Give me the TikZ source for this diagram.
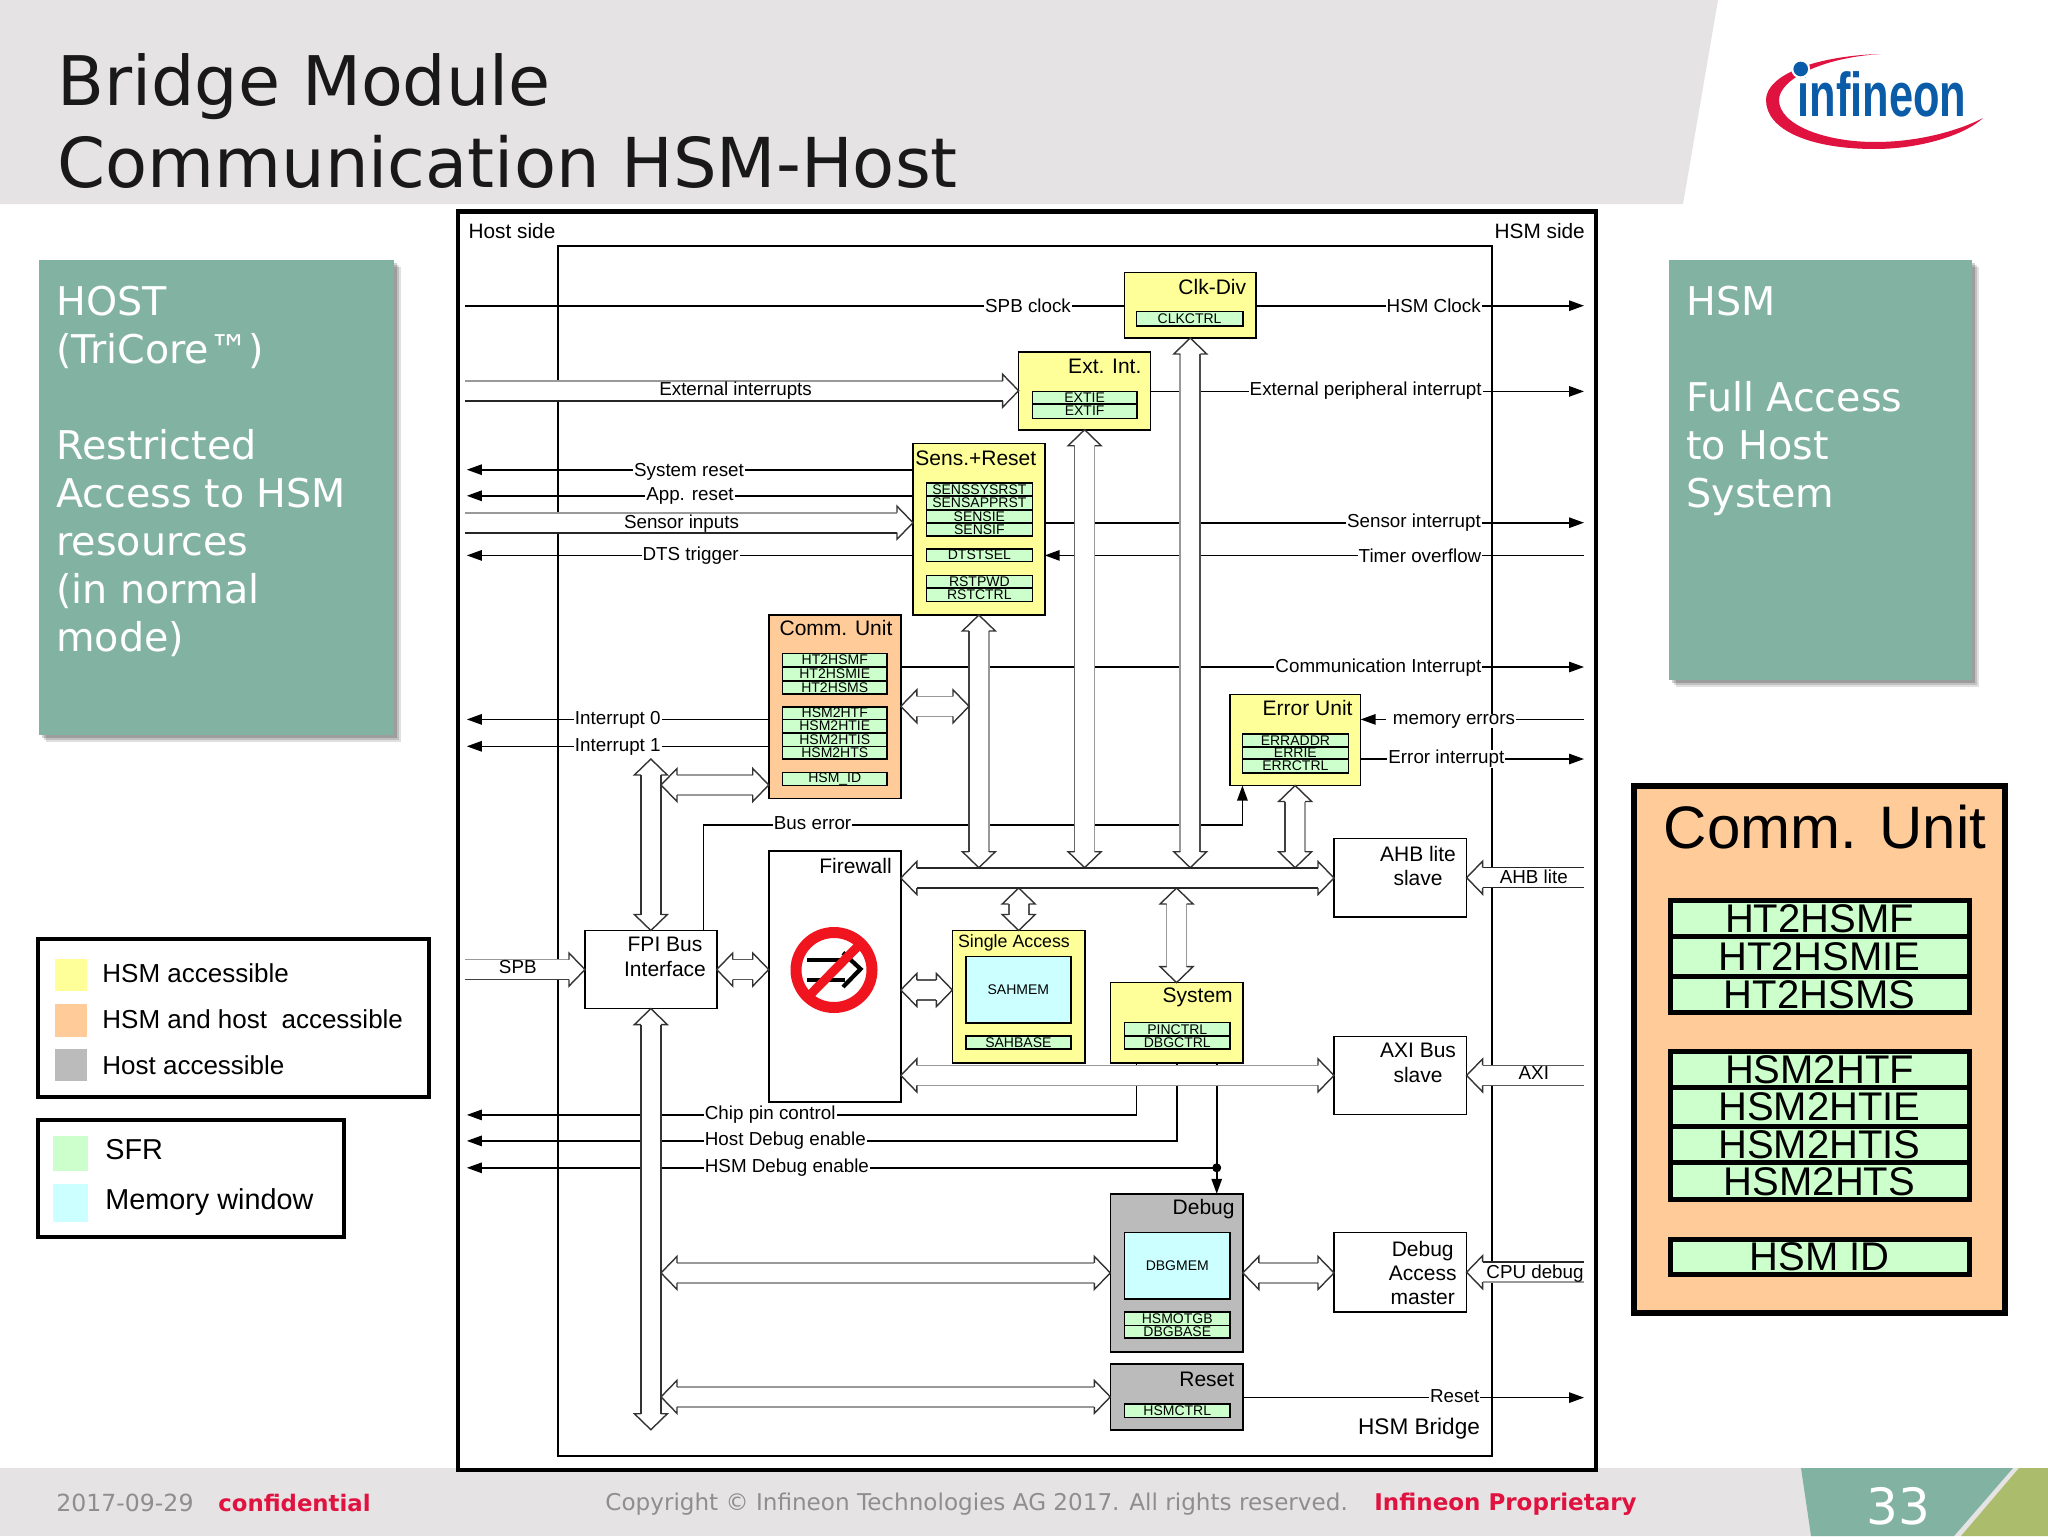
\documentclass[tikz,border=0pt]{standalone}
\usepackage{fontspec}
\setmainfont{Liberation Sans}
\newfontfamily\verd{DejaVu Sans}
\usetikzlibrary{arrows.meta,calc,fit}
\definecolor{teal}{HTML}{82B3A2}
\definecolor{barg}{HTML}{E6E3E4}
\definecolor{olive}{HTML}{ABBD6C}
\definecolor{ifxred}{HTML}{E0123F}
\definecolor{ifxblue}{HTML}{0A5CA8}
\definecolor{yel}{HTML}{FFFF99}
\definecolor{ora}{HTML}{FFCC99}
\definecolor{gry}{HTML}{BBBBBB}
\definecolor{sfr}{HTML}{CCFFCC}
\definecolor{mem}{HTML}{CCFFFF}
\definecolor{footg}{HTML}{8E8E8E}
\definecolor{gl}{HTML}{999999}
\definecolor{nored}{HTML}{F0141E}
\tikzset{
  box/.style={draw,inner sep=0pt,outer sep=0pt,line width=0.8pt},
  regbox/.style={box,fill=sfr},
  membox/.style={box,fill=mem},
  bigreg/.style={draw,inner sep=0pt,outer sep=0pt,line width=2.5pt,fill=sfr},
  swatch/.style={inner sep=0pt,outer sep=0pt},
  sig/.style={line width=0.8pt},
  tip/.tip={Triangle[length=7.5pt,width=5.2pt]},
  fath/.style={line width=0.7pt,line join=miter},
  fats/.style={line width=0.8pt},
  lab/.style={font=\fontsize{9.4}{11}\selectfont,fill=white,inner xsep=0.5pt,inner ysep=0pt,yshift=-1pt},
  plain/.style={font=\fontsize{9.4}{11}\selectfont,inner sep=0pt,yshift=-1pt},
  ttl/.style={font=\fontsize{10.5}{12.2}\selectfont,inner sep=0pt,align=center},
  regt/.style={font=\fontsize{7}{8}\selectfont,inner sep=0pt},
  bigt/.style={font=\fontsize{20}{24}\selectfont,inner sep=0pt},
  leg/.style={font=\fontsize{13}{15}\selectfont,inner sep=0pt,anchor=west},
  verdfont/.style={font=\verd\fontsize{19.8}{24}\selectfont},
  pan/.style={verdfont,text=white,inner sep=0pt,anchor=north west,align=left},
  foot/.style={inner sep=0pt,anchor=west},
}
\newcommand{\blk}[6]{\node[#6,fit={(#2,#3)(#4,#5)}] (#1) {};}
\newcommand{\reg}[6]{\blk{#1}{#2}{#3}{#4}{#5}{regbox}\node[regt] (#1-t) at (#1.center) {#6};}
\newcommand{\bigrg}[6]{\blk{#1}{#2}{#3}{#4}{#5}{bigreg}\node[bigt] (#1-t) at (#1.center) {#6};}
\def\hl{8pt}\def\hw{8.25pt}\def\sw{5pt}
\newcommand{\fatboth}[4]{%
 \coordinate (fa) at (#1);\coordinate (fb) at (#2);
 \coordinate (fa1) at ($(fa)!\hl!(fb)$);\coordinate (fb1) at ($(fb)!\hl!(fa)$);
 \coordinate (p1) at ($(fa1)!\hw!90:(fb)$);\coordinate (p2) at ($(fa1)!\sw!90:(fb)$);
 \coordinate (p3) at ($(fb1)!\sw!-90:(fa)$);\coordinate (p4) at ($(fb1)!\hw!-90:(fa)$);
 \coordinate (q1) at ($(fa1)!\hw!-90:(fb)$);\coordinate (q2) at ($(fa1)!\sw!-90:(fb)$);
 \coordinate (q3) at ($(fb1)!\sw!90:(fa)$);\coordinate (q4) at ($(fb1)!\hw!90:(fa)$);
 \fill[white] (fa)--(p1)--(p2)--(p3)--(p4)--(fb)--(q4)--(q3)--(q2)--(q1)--cycle;
 \draw[fats,#3] (p2)--(p3);\draw[fats,#4] (q2)--(q3);
 \draw[fath,black!80] (p2)--(p1)--(fa)--(q1)--(q2);
 \draw[fath,black!80] (p3)--(p4)--(fb)--(q4)--(q3);}
\newcommand{\fatin}[4]{%
 \coordinate (fa) at (#1);\coordinate (fb) at (#2);
 \coordinate (fb1) at ($(fb)!\hl!(fa)$);
 \coordinate (p2) at ($(fa)!\sw!90:(fb)$);\coordinate (q2) at ($(fa)!\sw!-90:(fb)$);
 \coordinate (p3) at ($(fb1)!\sw!-90:(fa)$);\coordinate (p4) at ($(fb1)!\hw!-90:(fa)$);
 \coordinate (q3) at ($(fb1)!\sw!90:(fa)$);\coordinate (q4) at ($(fb1)!\hw!90:(fa)$);
 \fill[white] (p2)--(p3)--(p4)--(fb)--(q4)--(q3)--(q2)--cycle;
 \draw[fats,#3] (p2)--(p3);\draw[fats,#4] (q2)--(q3);
 \draw[fath,black!80] (p3)--(p4)--(fb)--(q4)--(q3);}
\begin{document}
\begin{tikzpicture}[x=0.5pt,y=-0.5pt]
\useasboundingbox (0,0) rectangle (2048,1536);
\fill[white] (0,0) rectangle (2048,1536);
% header and footer bars
\fill[barg] (0,0)--(1718,0)--(1683,204)--(0,204)--cycle;
\fill[barg] (0,1468) rectangle (2048,1536);
\fill[teal] (1801,1468)--(2013,1468)--(1954,1536)--(1811,1536)--cycle;
\fill[olive] (2019,1468)--(2048,1468)--(2048,1536)--(1961,1536)--cycle;
\node[font=\verd\fontsize{34.2}{41}\selectfont,text=black!90,inner sep=0pt,anchor=base west] (t1) at (57,105) {Bridge Module};
\node[font=\verd\fontsize{34.4}{41}\selectfont,text=black!90,inner sep=0pt,anchor=base west] (t2) at (57,187) {Communication HSM-Host};
% footer text
\node[foot,font=\verd\fontsize{11.8}{14}\selectfont,text=footg] (f1) at (56,1503) {2017-09-29};
\node[foot,font=\verd\bfseries\fontsize{11.4}{14}\selectfont,text=ifxred] (f2) at (218,1503) {confidential};
\node[foot,font=\verd\fontsize{11.55}{14}\selectfont,text=footg] (f3) at (605,1504) {Copyright © Infineon Technologies AG 2017. All rights reserved.};
\node[foot,font=\verd\bfseries\fontsize{11.5}{14}\selectfont,text=ifxred] (f4) at (1374,1504) {Infineon Proprietary};
\node[font=\verd\fontsize{25}{30}\selectfont,text=white,inner sep=0pt] (pg) at (1898.6,1506) {33};
% logo
\fill[ifxred] (1880,54) .. controls (1815,56) and (1766,75) .. (1766,100) .. controls (1766,130) and (1810,149) .. (1875,149) .. controls (1920,149) and (1965,135) .. (1983,118) .. controls (1960,130) and (1920,142) .. (1875,142) .. controls (1825,142) and (1779,125) .. (1779,100) .. controls (1779,80) and (1820,58) .. (1880,54) -- cycle;
\node[font=\bfseries\fontsize{31}{36}\selectfont,text=ifxblue,inner sep=0pt,anchor=base west] (logo) at (1797,117) {\scalebox{0.70}[1]{infineon}};
\fill[white] (1800.7,69) circle [radius=9.5];
\fill[ifxblue] (1800.7,69) circle [radius=7.3];
% side panels
\foreach \o/\a in {7/0.12,5/0.14,3/0.18}{
  \fill[black,opacity=\a] (39+\o,260+\o) rectangle (394+\o,735+\o);
  \fill[black,opacity=\a] (1669+\o,260+\o) rectangle (1972+\o,680+\o);}
\blk{hostp}{39}{260}{394}{735}{swatch,fill=teal}
\blk{hsmp}{1669}{260}{1972}{680}{swatch,fill=teal}
\node[pan] (hostt) at (56,286) {HOST\\(TriCore™)\\[24pt]Restricted\\Access to HSM\\resources\\(in normal\\mode)};
\node[pan] (hsmt) at (1686,286) {HSM\\[24pt]Full Access\\to Host\\System};
% legends
\blk{leg1}{38}{939}{429}{1097}{draw,line width=2.2pt,inner sep=0pt,outer sep=0pt}
\blk{leg2}{38}{1120}{344}{1237}{draw,line width=2.2pt,inner sep=0pt,outer sep=0pt}
\blk{s1}{55}{959}{87}{991}{swatch,fill=yel}
\blk{s2}{55}{1004}{87}{1037}{swatch,fill=ora}
\blk{s3}{55}{1049}{87}{1081}{swatch,fill=gry}
\blk{s4}{53}{1136}{88}{1171}{swatch,fill=sfr}
\blk{s5}{53}{1184}{88}{1222}{swatch,fill=mem}
\node[leg] (l1) at (102,973) {HSM accessible};
\node[leg] (l2) at (102,1019) {HSM and host \ accessible};
\node[leg] (l3) at (102,1065) {Host accessible};
\node[leg,font=\fontsize{14.4}{16}\selectfont] (l4) at (105,1150) {SFR};
\node[leg,font=\fontsize{14.4}{16}\selectfont] (l5) at (105,1202) {Memory window};
% big comm unit
\blk{bigc}{1634}{786}{2005}{1313}{draw,line width=2.7pt,inner sep=0pt,outer sep=0pt,fill=ora}
\node[font=\fontsize{30}{36}\selectfont,inner sep=0pt] (bigc-t) at (1825,827) {Comm. Unit};
\bigrg{b1}{1670}{900.4}{1969}{936.8}{HT2HSMF}
\bigrg{b2}{1670}{936.8}{1969}{976}{HT2HSMIE}
\bigrg{b3}{1670}{976}{1969}{1012.9}{HT2HSMS}
\bigrg{b4}{1670}{1051.4}{1969}{1087.9}{HSM2HTF}
\bigrg{b5}{1670}{1087.9}{1969}{1126.4}{HSM2HTIE}
\bigrg{b6}{1670}{1126.4}{1969}{1162.9}{HSM2HTIS}
\bigrg{b7}{1670}{1162.9}{1969}{1199.6}{HSM2HTS}
\bigrg{b8}{1670}{1239}{1969}{1274.6}{HSM ID}
% frames
\blk{outer}{458}{211.5}{1596}{1470}{draw,line width=2.3pt,inner sep=0pt,outer sep=0pt,fill=white}
\blk{bridge}{558}{246}{1492}{1456}{box}
% free ends
\coordinate (L) at (466.8,0);
\coordinate (LS) at (465,0);
\coordinate (R) at (1584,0);
\coordinate (busT) at (0,867.7);
\coordinate (dot) at (1216.7,1167.8);
\coordinate (a1l) at (969,706.3);
\coordinate (hr) at (661,785);
\coordinate (memstub) at (1385.5,719.4);
% blocks
\blk{clk}{1124.5}{272.6}{1256}{338}{box,fill=yel}
\blk{ext}{1018.6}{351.8}{1150.6}{429.7}{box,fill=yel}
\blk{sens}{913}{443.6}{1044.7}{615}{box,fill=yel}
\blk{comm}{768.75}{615}{900.8}{798.5}{box,fill=ora}
\blk{err}{1229.7}{694.5}{1360.6}{785.5}{box,fill=yel}
\blk{fw}{768.75}{850.7}{900.8}{1101.9}{box,fill=white}
\blk{fpi}{585}{930.5}{716.7}{1008.6}{box,fill=white}
\blk{sa}{952.4}{930.5}{1085}{1062.8}{box,fill=yel}
\blk{sys}{1110.3}{982.6}{1242.8}{1062.8}{box,fill=yel}
\blk{dbg}{1110.3}{1193.8}{1242.8}{1352}{box,fill=gry}
\blk{rst}{1110.3}{1364}{1242.8}{1429.7}{box,fill=gry}
\blk{ahb}{1334}{838.6}{1466.6}{916.7}{box,fill=white}
\blk{axi}{1334}{1036.4}{1466.6}{1114.4}{box,fill=white}
\blk{dam}{1334}{1232.4}{1466.6}{1312}{box,fill=white}
% signal lines
\draw[sig] (LS |- 0,305.7) -- (clk.west |- 0,305.7);
\draw[sig,-tip] (clk.east |- 0,305.7) -- (R |- 0,305.7);
\draw[sig,-tip] (ext.east |- 0,391.4) -- (R |- 0,391.4);
\draw[sig,-tip] (sens.west |- 0,469.7) -- (L |- 0,469.7);
\draw[sig,-tip] (sens.west |- 0,495.8) -- (L |- 0,495.8);
\draw[sig,-tip] (sens.west |- 0,555.4) -- (L |- 0,555.4);
\draw[sig,-tip] (sens.east |- 0,522.7) -- (R |- 0,522.7);
\draw[sig,-tip] (R |- 0,555.4) -- (sens.east |- 0,555.4);
\draw[sig,-tip] (comm.east |- 0,667) -- (R |- 0,667);
\draw[sig,-tip] (comm.west |- 0,719.4) -- (L |- 0,719.4);
\draw[sig,-tip] (comm.west |- 0,746.3) -- (L |- 0,746.3);
\draw[sig] (R |- memstub) -- (1516,719.4);
\draw[sig,-tip] (memstub) -- (err.east |- memstub);
\draw[sig,-tip] (err.east |- 0,759) -- (R |- 0,759);
\draw[sig,-tip] (703.5,0 |- fpi.north) -- (703.5,824.7) -- (1242.4,824.7) -- (1242.4,0 |- err.south);
\draw[sig,-tip] (rst.east |- 0,1397.6) -- (R |- 0,1397.6);
\draw[sig,-tip] (1136.4,0 |- sys.south) -- (1136.4,1114.9) -- (L |- 0,1114.9);
\draw[sig,-tip] (1176.7,0 |- sys.south) -- (1176.7,1140.9) -- (L |- 0,1140.9);
\draw[sig,-tip] (dot) -- (L |- dot);
\draw[sig,-tip] (1216.7,0 |- sys.south) -- (1216.7,0 |- dbg.north);
\fill (dot) circle [radius=4.5];
% hollow arrows
\fatin{LS |- ext.west}{ext.west}{gl}{black!85}
\fatin{LS |- 0,522.7}{sens.west |- 0,522.7}{gl}{black!85}
\fatin{LS |- fpi.west}{fpi.west}{gl}{black!75}
\fatin{R |- ahb.east}{ahb.east}{black!85}{black!85}
\fatin{R |- axi.east}{axi.east}{black!65}{black!65}
\fatin{R |- dam.east}{dam.east}{gl}{black!85}
\fatboth{sens.south}{sens.south |- busT}{gl}{black!75}
\fatboth{ext.south}{ext.south |- busT}{gl}{black!60}
\fatboth{clk.south}{clk.south |- busT}{black!70}{gl}
\fatboth{err.south}{err.south |- busT}{gl}{black!75}
\fatboth{fpi.north |- 0,759}{fpi.north}{black!80}{black!80}
\fatboth{fpi.south}{fpi.south |- 0,1429.7}{black!80}{black!80}
\fatboth{sa.north |- 0,888}{sa.north}{black!65}{black!65}
\fatboth{sys.north |- 0,888}{sys.north}{gl}{gl}
\fatboth{comm.east |- a1l}{a1l}{gl}{gl}
\fatboth{hr}{comm.west |- hr}{gl}{gl}
\fatboth{fpi.east}{fw.west |- fpi.east}{black!65}{black!65}
\fatboth{fw.east |- 0,990}{sa.west |- 0,990}{black!65}{black!65}
\fatboth{fw.east |- 0,878}{ahb.west |- 0,878}{black!85}{black!85}
\fatboth{fw.east |- axi.west}{axi.west}{gl}{gl}
\fatboth{hr |- dbg.west}{dbg.west}{gl}{gl}
\fatboth{hr |- rst.west}{rst.west}{gl}{gl}
\fatboth{dbg.east}{dam.west |- dbg.east}{gl}{gl}
% registers and memory windows
\reg{rclk}{1136.4}{311.4}{1242.8}{326}{CLKCTRL}
\reg{rexie}{1032.4}{391.4}{1136.8}{404}{EXTIE}
\reg{rexif}{1032.4}{404}{1136.8}{418.3}{EXTIF}
\reg{rs1}{926.3}{483}{1032.4}{495.8}{SENSSYSRST}
\reg{rs2}{926.3}{495.8}{1032.4}{509.7}{SENSAPPRST}
\reg{rs3}{926.3}{509.7}{1032.4}{523}{SENSIE}
\reg{rs4}{926.3}{523}{1032.4}{535.8}{SENSIF}
\reg{rs5}{926.3}{548.8}{1032.4}{561.5}{DTSTSEL}
\reg{rs6}{926.3}{575.4}{1032.4}{588}{RSTPWD}
\reg{rs7}{926.3}{588}{1032.4}{601.5}{RSTCTRL}
\reg{rc1}{782.5}{653.3}{887}{667}{HT2HSMF}
\reg{rc2}{782.5}{667}{887}{681}{HT2HSMIE}
\reg{rc3}{782.5}{681}{887}{693.7}{HT2HSMS}
\reg{rc4}{782.5}{706.7}{887}{719.4}{HSM2HTF}
\reg{rc5}{782.5}{719.4}{887}{732.8}{HSM2HTIE}
\reg{rc6}{782.5}{732.8}{887}{746.3}{HSM2HTIS}
\reg{rc7}{782.5}{746.3}{887}{759}{HSM2HTS}
\reg{rc8}{782.5}{772.4}{887}{785.5}{HSM\_ID}
\reg{re1}{1242.4}{733.7}{1348.3}{746.7}{ERRADDR}
\reg{re2}{1242.4}{746.7}{1348.3}{759}{ERRIE}
\reg{re3}{1242.4}{759}{1348.3}{772.8}{ERRCTRL}
\blk{msa}{966}{956.6}{1070.7}{1023}{membox}
\node[regt] (msa-t) at (msa.center) {SAHMEM};
\reg{rsa}{966}{1036}{1070.7}{1049}{SAHBASE}
\reg{ry1}{1124.5}{1022.5}{1230}{1036}{PINCTRL}
\reg{ry2}{1124.5}{1036}{1230}{1049}{DBGCTRL}
\blk{mdb}{1124.5}{1232.4}{1230}{1298.7}{membox}
\node[regt] (mdb-t) at (mdb.center) {DBGMEM};
\reg{rd1}{1124.5}{1312}{1230}{1325.6}{HSMOTGB}
\reg{rd2}{1124.5}{1325.6}{1230}{1338.2}{DBGBASE}
\reg{rr1}{1124.5}{1403.7}{1230}{1417.6}{HSMCTRL}
% firewall symbol
\draw[line width=2.1pt] (807,959.6) -- (845,959.6);
\draw[line width=2.1pt] (807,980) -- (845,980);
\draw[line width=2.1pt] (843,952.7) -- (860.5,969) -- (843,987);
\draw[nored,line width=5.5pt] (834,970) ellipse [x radius=38,y radius=37.5];
\draw[nored,line width=4.5pt] (864,940) -- (805,1000);
% block titles
\node[ttl] (clk-t) at (1212.3,286.5) {Clk-Div};
\node[ttl] (ext-t) at (1104.8,366.5) {Ext. Int.};
\node[ttl] (sens-t) at (975.8,458) {Sens.+Reset};
\node[ttl] (comm-t) at (836,628.4) {Comm. Unit};
\node[ttl] (err-t) at (1307.6,708) {Error Unit};
\node[ttl] (fw-t) at (855.5,866) {Firewall};
\node[ttl] (fpi-t) at (665,957) {FPI Bus\\Interface};
\node[ttl,font=\fontsize{8.9}{10}\selectfont] (sa-t) at (1014,943) {Single Access};
\node[ttl] (sys-t) at (1197.7,997.8) {System};
\node[ttl] (dbg-t) at (1203.6,1209) {Debug};
\node[ttl] (rst-t) at (1206.8,1379) {Reset};
\node[ttl] (ahb-t) at (1418,866) {AHB lite\\slave};
\node[ttl] (axi-t) at (1418,1063) {AXI Bus\\slave};
\node[ttl] (dam-t) at (1422.7,1273) {Debug\\Access\\master};
\node[ttl,font=\fontsize{11.3}{13}\selectfont] (br-t) at (1419,1428.8) {HSM Bridge};
\node[plain,font=\fontsize{10.4}{12}\selectfont] (hs) at (512,229) {Host side};
\node[plain,font=\fontsize{10.4}{12}\selectfont] (ms) at (1539.7,229) {HSM side};
% connector labels
\node[lab] at (1028,304) {SPB clock};
\node[lab] at (1433.7,304) {HSM Clock};
\node[plain] at (735.6,388.5) {External interrupts};
\node[lab] at (1365.7,388.5) {External peripheral interrupt};
\node[lab] at (689,469.7) {System reset};
\node[lab] at (690,494) {App. reset};
\node[plain] at (681.5,521.5) {Sensor inputs};
\node[lab] at (690.7,553.7) {DTS trigger};
\node[lab] at (1414,521) {Sensor interrupt};
\node[lab] at (1420,553.7) {Timer overflow};
\node[lab] at (1378.4,666) {Communication Interrupt};
\node[lab] at (617.8,717.5) {Interrupt 0};
\node[lab] at (617.8,745) {Interrupt 1};
\node[lab] at (1454,719) {memory errors};
\node[lab] at (1446.4,757) {Error interrupt};
\node[lab] at (812.6,821) {Bus error};
\node[lab,anchor=west] at (703.5,1113) {Chip pin control};
\node[lab,anchor=west] at (703.5,1138.7) {Host Debug enable};
\node[lab,anchor=west] at (703.5,1165.5) {HSM Debug enable};
\node[lab] at (1454.7,1394) {Reset};
\node[plain] at (517.8,965) {SPB};
\node[plain] at (1533.8,875) {AHB lite};
\node[plain] at (1533.8,1071) {AXI};
\node[plain] at (1535,1271.8) {CPU debug};
\end{tikzpicture}
\end{document}
